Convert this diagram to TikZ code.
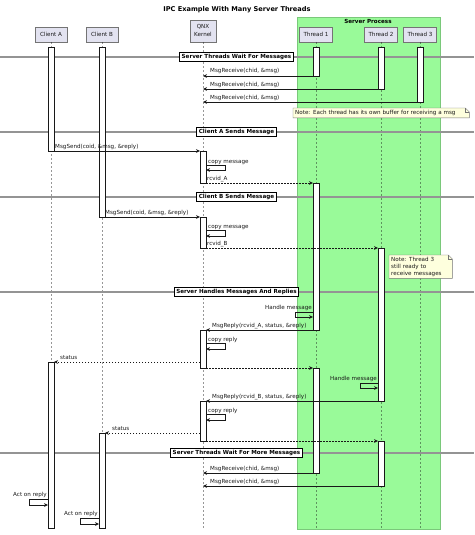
\documentclass[tikz,border=0pt]{standalone}
\usepackage{fontspec}
\setmainfont{DejaVu Sans}
\usetikzlibrary{arrows.meta,calc,backgrounds}
\pgfdeclarelayer{notebg}
\pgfdeclarelayer{front}
\pgfsetlayers{background,main,notebg,front}
\definecolor{partfill}{HTML}{E2E2F0}
\definecolor{procgreen}{HTML}{99FA99}
\definecolor{notefill}{HTML}{FEFFDD}
\definecolor{ink}{HTML}{181818}
% activation bar on a lifeline: node, top, bottom
\newcommand{\actv}[3]{\draw[actbar] (#1L |- 0,#2) rectangle (#1R |- 0,#3);}
\begin{document}
\begin{tikzpicture}[x=1pt,y=-1pt,font=\fontsize{5.6}{6.8}\selectfont]

	\tikzstyle{participant}=[draw=ink!60,fill=partfill,line width=0.4pt,
		minimum width=32pt,minimum height=15pt,inner sep=2pt,
		anchor=south,align=center,text=ink]
	\tikzstyle{lifeline}=[draw=ink,draw opacity=0.45,line width=0.4pt,
		dash pattern=on 2pt off 2pt]
	\tikzstyle{actbar}=[draw=ink,fill=white,line width=0.4pt]
	\tikzstyle{msg}=[draw=ink,line width=0.4pt,
		-{Stealth[length=4pt,width=3.6pt]}]
	\tikzstyle{reply}=[msg,dash pattern=on 1.5pt off 1.5pt]
	\tikzstyle{lbl}=[inner sep=1pt,text=ink]
	\tikzstyle{divider}=[draw=black!42,line width=2.6pt]
	\tikzstyle{divlabel}=[draw=black,fill=white,line width=0.8pt,
		inner xsep=2pt,inner ysep=1.5pt,font=\bfseries\fontsize{5.6}{6.8}\selectfont]
	\tikzstyle{notetext}=[anchor=north west,inner xsep=2pt,inner ysep=2pt,
		align=left,text=ink]
	\tikzstyle{notebox}=[draw=ink!60,fill=notefill,line width=0.4pt]

	\useasboundingbox (0,0) rectangle (474,535);

	\node[font=\bfseries\fontsize{6.6}{8}\selectfont] (title) at (237,10)
		{IPC Example With Many Server Threads};

	% server process box
	\begin{pgfonlayer}{background}
		\draw[draw=procgreen!80!black,fill=procgreen,line width=0.3pt]
			(297,17) rectangle (440,529);
	\end{pgfonlayer}
	\node[font=\bfseries\fontsize{5.6}{6.8}\selectfont,inner sep=0pt] (sp) at (368,21.5) {Server Process};

	% participants
	\node[participant]		(ca)	at (51,42)	{Client A};
	\node[participant]		(cb)	at (102,42)	{Client B};
	\node[participant,minimum width=26pt,minimum height=22pt,
		font=\fontsize{5.6}{8}\selectfont]	(k)	at (203,42)	{QNX\\Kernel};
	\node[participant,minimum width=33pt]	(t1)	at (316,42)	{Thread 1};
	\node[participant,minimum width=33pt]	(t2)	at (381,42)	{Thread 2};
	\node[participant,minimum width=33pt]	(t3)	at (420,42)	{Thread 3};

	\foreach \p in {ca,cb,k,t1,t2,t3} {
		\coordinate (\p L) at ([xshift=-3pt]\p.south);
		\coordinate (\p R) at ([xshift=3pt]\p.south);
		\draw[lifeline] (\p.south) -- (\p |- 0,528);
	}

	% dividers
	\foreach \y/\txt in {57/Server Threads Wait For Messages,
			132/Client A Sends Message,
			197/Client B Sends Message,
			292/Server Handles Messages And Replies,
			453/Server Threads Wait For More Messages} {
		\draw[divider] (0,\y) -- (474,\y);
		\node[divlabel] (d\y) at (236.5,\y) {\txt};
	}

	% activations
	\actv{ca}{47}{151}	\actv{ca}{362}{528}
	\actv{cb}{47}{217}	\actv{cb}{433}{528}
	\actv{k}{151}{183}	\actv{k}{217}{248}
	\actv{k}{330}{368}	\actv{k}{401}{441}
	\actv{t1}{47}{76}	\actv{t1}{183}{330}	\actv{t1}{368}{473}
	\actv{t2}{47}{89}	\actv{t2}{248}{401}	\actv{t2}{441}{486}
	\actv{t3}{47}{102}

	% threads wait
	\draw[msg] (t1L |- 0,76) -- (k |- 0,76);
	\node[lbl,anchor=base west] (m1) at (209,73) {MsgReceive(chid, \&msg)};
	\draw[msg] (t2L |- 0,89) -- (k |- 0,89);
	\node[lbl,anchor=base west] (m2) at (209,86) {MsgReceive(chid, \&msg)};
	\draw[msg] (t3L |- 0,102) -- (k |- 0,102);
	\node[lbl,anchor=base west] (m3) at (209,99) {MsgReceive(chid, \&msg)};

	% client A sends
	\draw[msg] (caR |- 0,151) -- (kL |- 0,151);
	\node[lbl,anchor=base west] (m4) at (54,148) {MsgSend(coid, \&msg, \&reply)};
	\draw[msg] (kR |- 0,165) -- ++(19,0) -- ++(0,5) -- (kR |- 0,170);
	\node[lbl,anchor=base west] (m5) at (207,163) {copy message};
	\draw[reply] (kR |- 0,183) -- (t1L |- 0,183);
	\node[lbl,anchor=base west] (m6) at (206,180.5) {rcvid\_A};

	% client B sends
	\draw[msg] (cbR |- 0,217) -- (kL |- 0,217);
	\node[lbl,anchor=base west] (m7) at (104,214) {MsgSend(coid, \&msg, \&reply)};
	\draw[msg] (kR |- 0,230) -- ++(19,0) -- ++(0,6) -- (kR |- 0,236);
	\node[lbl,anchor=base west] (m8) at (207,228) {copy message};
	\draw[reply] (kR |- 0,248) -- (t2L |- 0,248);
	\node[lbl,anchor=base west] (m9) at (206,245.5) {rcvid\_B};

	% server handles
	\draw[msg] (t1L |- 0,312) -- ++(-18,0) -- ++(0,5) -- (t1L |- 0,317);
	\node[lbl,anchor=base east] (m10) at (313,309) {Handle message};
	\draw[msg] (t1L |- 0,330) -- (kR |- 0,330);
	\node[lbl,anchor=base west] (m11) at (211,327) {MsgReply(rcvid\_A, status, \&reply)};
	\draw[msg] (kR |- 0,343) -- ++(19,0) -- ++(0,6) -- (kR |- 0,349);
	\node[lbl,anchor=base west] (m12) at (207,341) {copy reply};
	\draw[reply] (kL |- 0,362) -- (caR |- 0,362);
	\node[lbl,anchor=base west] (m13) at (59,359.5) {status};
	\draw[reply] (kR |- 0,368) -- (t1L |- 0,368);

	\draw[msg] (t2L |- 0,383) -- ++(-18,0) -- ++(0,5) -- (t2L |- 0,388);
	\node[lbl,anchor=base east] (m14) at (378,380) {Handle message};
	\draw[msg] (t2L |- 0,401) -- (kR |- 0,401);
	\node[lbl,anchor=base west] (m15) at (211,398) {MsgReply(rcvid\_B, status, \&reply)};
	\draw[msg] (kR |- 0,414) -- ++(19,0) -- ++(0,6) -- (kR |- 0,420);
	\node[lbl,anchor=base west] (m16) at (207,412) {copy reply};
	\draw[reply] (kL |- 0,433) -- (cbR |- 0,433);
	\node[lbl,anchor=base west] (m17) at (111,430.5) {status};
	\draw[reply] (kR |- 0,441) -- (t2L |- 0,441);

	% wait again
	\draw[msg] (t1L |- 0,473) -- (k |- 0,473);
	\node[lbl,anchor=base west] (m18) at (209,470) {MsgReceive(chid, \&msg)};
	\draw[msg] (t2L |- 0,486) -- (k |- 0,486);
	\node[lbl,anchor=base west] (m19) at (209,483) {MsgReceive(chid, \&msg)};

	\draw[msg] (caL |- 0,499) -- ++(-19,0) -- ++(0,6) -- (caL |- 0,505);
	\node[lbl,anchor=base east] (m20) at (48,496) {Act on reply};
	\draw[msg] (cbL |- 0,518) -- ++(-19,0) -- ++(0,6) -- (cbL |- 0,524);
	\node[lbl,anchor=base east] (m21) at (99,515) {Act on reply};

	% notes
	\begin{pgfonlayer}{front}
		\node[notetext,text width=172pt] (n1) at (293,108)
			{Note: Each thread has its own buffer for receiving a msg};
		\node[notetext,text width=59pt] (n2) at (389,255)
			{Note: Thread 3\\still ready to\\receive messages};
	\end{pgfonlayer}
	\begin{pgfonlayer}{notebg}
		\foreach \n in {n1,n2} {
			\draw[notebox] (\n.south west) -- (\n.north west)
				-- ([xshift=-4pt]\n.north east) -- ([yshift=-4pt]\n.north east)
				-- (\n.south east) -- cycle;
			\draw[notebox,fill=none] ([xshift=-4pt]\n.north east)
				-- ([xshift=-4pt,yshift=-4pt]\n.north east) -- ([yshift=-4pt]\n.north east);
		}
	\end{pgfonlayer}

\end{tikzpicture}
\end{document}
